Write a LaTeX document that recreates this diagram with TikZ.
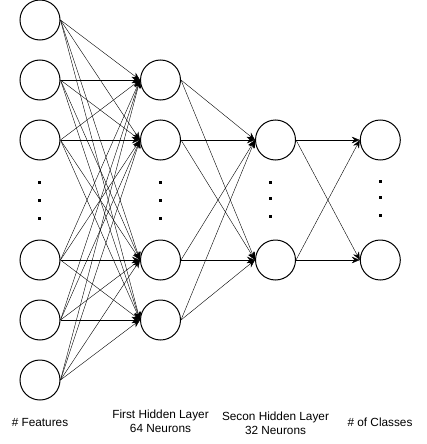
\documentclass[tikz,border=0pt]{standalone}
\usepackage{fontspec}
\setmainfont{Liberation Sans}
\usetikzlibrary{arrows.meta,backgrounds}

\begin{document}
\begin{tikzpicture}[x=1pt,y=-1pt,line width=1pt,
  neuron/.style={draw,fill=white,circle,minimum size=40pt,inner sep=0pt},
  link/.style={-{Stealth[length=8pt,width=6.5pt]}},
  lbl/.style={align=center,font=\fontsize{11.8}{14}\selectfont}]
\useasboundingbox (0,0) rectangle (426,444);
% layers
\foreach \n/\y in {1/20,2/80,3/140,4/260,5/320,6/380}
  \node [neuron] (i\n) at (40,\y) {};
\foreach \n/\y in {1/80,2/140,3/260,4/320}
  \node [neuron] (h\n) at (160.5,\y) {};
\foreach \n/\y in {1/140,2/260}
  \node [neuron] (s\n) at (275.5,\y) {};
\foreach \n/\y in {1/140,2/260}
  \node [neuron] (o\n) at (380.3,\y) {};
% dots
\foreach \x in {39.5,160.5}
  \foreach \y in {182.5,200.5,218.5}
    \fill (\x-1.3,\y-1.3) rectangle ++(2.6,2.6);
\foreach \x/\y in {270.3/182.5,270.3/198.5,270.3/216.5,380.3/181.5,380.3/197.5,380.3/215.5}
  \fill (\x-1.3,\y-1.3) rectangle ++(2.6,2.6);
% links
\begin{pgfonlayer}{background}
\foreach \a in {1,...,6}
  \foreach \b in {1,...,4}
    \draw [link] (i\a.east) -- (h\b.west);
\foreach \a in {1,...,4}
  \foreach \b in {1,2}
    \draw [link] (h\a.east) -- (s\b.west);
\foreach \a in {1,2}
  \foreach \b in {1,2}
    \draw [link] (s\a.east) -- (o\b.west);
\end{pgfonlayer}
% labels
\node [lbl] (feat) at (40,422) {\# Features};
\node [lbl] (first) at (160.5,421) {First Hidden Layer\\64 Neurons};
\node [lbl] (second) at (275.5,423.5) {Secon Hidden Layer\\32 Neurons};
\node [lbl] (cls) at (380,422.5) {\# of Classes};
\end{tikzpicture}
\end{document}
